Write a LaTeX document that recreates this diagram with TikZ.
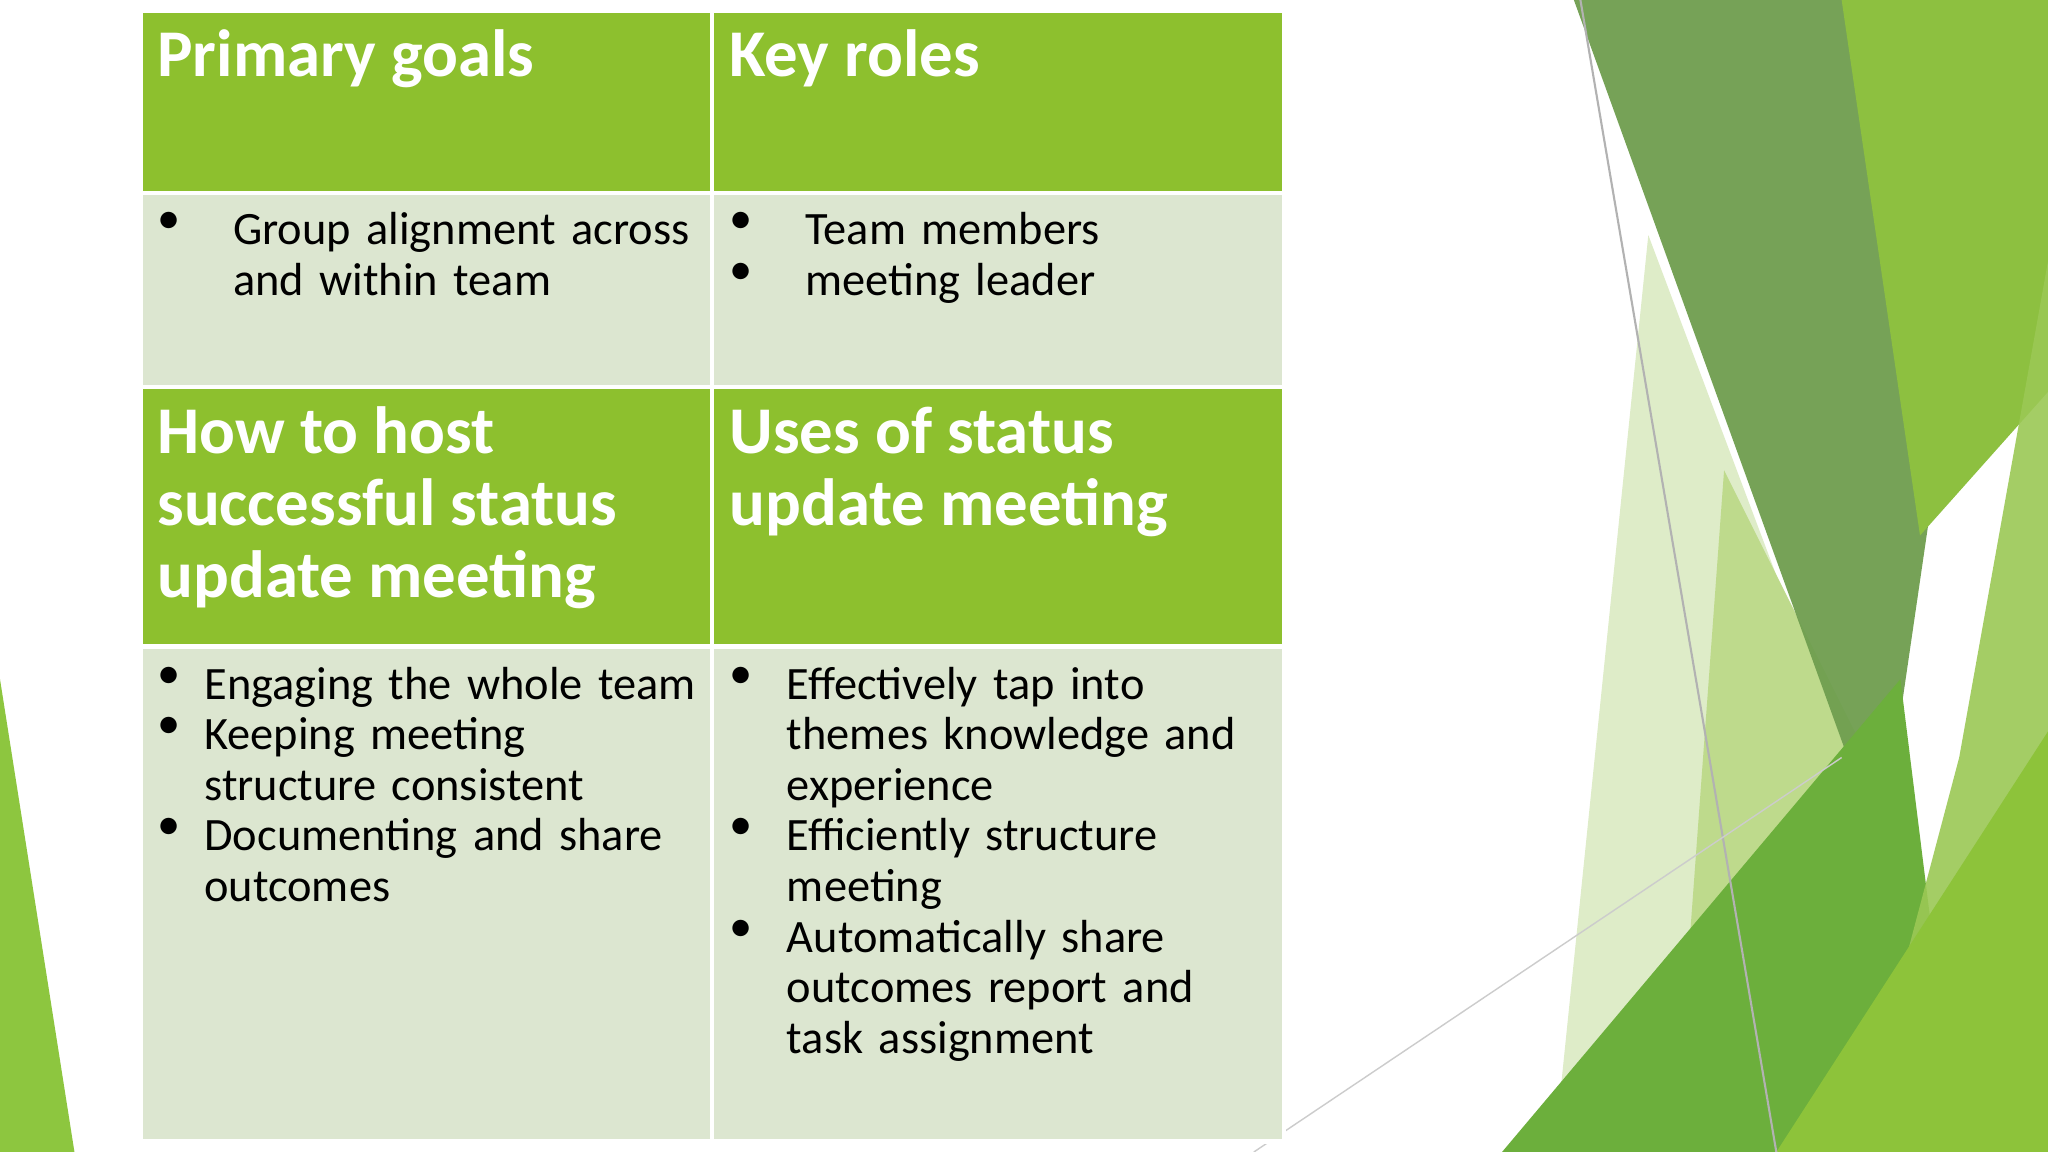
\documentclass[tikz,border=0pt]{standalone}
\usepackage{fontspec}
\setmainfont{Carlito}
\definecolor{hdr}{HTML}{8DC02E}
\definecolor{bodyc}{HTML}{DCE6D0}
\tikzset{
 hcell/.style={fill=hdr,draw=white,line width=1.2pt},
 bcell/.style={fill=bodyc,draw=white,line width=1.2pt},
 htxt/.style={anchor=north west,text=white,font=\bfseries\fontsize{19}{20.5}\selectfont,align=left,inner sep=0pt},
 btxt/.style={anchor=north west,font=\fontsize{13.2}{14.4}\selectfont,align=left,inner sep=0pt,text width=#1},
 btxt/.default=140pt
}
\begin{document}
\begin{tikzpicture}[x=0.013061cm,y=-0.013061cm]
\useasboundingbox (0,0) rectangle (1568,882);
\fill[white] (0,0) rectangle (1568,882);
% decoration
\fill[color={rgb,255:red,222;green,236;blue,200}] (1262,180)--(1420,600)--(1340,882)--(1190,882)--cycle;
\fill[color={rgb,255:red,190;green,218;blue,140}] (1320,360)--(1445,610)--(1290,770)--cycle;
\fill[color={rgb,255:red,111;green,158;blue,79},opacity=0.95] (1205,0)--(1535,0)--(1440,650)--cycle;
\fill[color={rgb,255:red,141;green,192;blue,64}] (1410,0)--(1568,0)--(1568,300)--(1470,410)--cycle;
\fill[color={rgb,255:red,108;green,175;blue,60}] (1150,882)--(1455,520)--(1500,882)--cycle;
\fill[color={rgb,255:red,155;green,200;blue,85},opacity=0.9] (1568,200)--(1568,882)--(1420,882)--(1500,580)--cycle;
\fill[color={rgb,255:red,141;green,195;blue,58}] (1360,882)--(1568,560)--(1568,882)--cycle;
\fill[color={rgb,255:red,141;green,198;blue,63}] (0,520)--(0,882)--(57,882)--cycle;
\draw[gray!60,line width=0.6pt] (1210,0)--(1360,882);
\draw[gray!40,line width=0.4pt] (960,882)--(1410,580);
% table
\path[hcell] (108,8) rectangle (545,148);
\path[hcell] (545,8) rectangle (983,148);
\path[bcell] (108,148) rectangle (545,296);
\path[bcell] (545,148) rectangle (983,296);
\path[hcell] (108,296) rectangle (545,495);
\path[hcell] (545,296) rectangle (983,495);
\path[bcell] (108,495) rectangle (545,874);
\path[bcell] (545,495) rectangle (983,874);
\node[htxt] (h1) at (120,22) {Primary goals};
\node[htxt] (h2) at (558,22) {Key roles};
\node[htxt] (h3) at (120,311) {How to host\\successful status\\update meeting};
\node[htxt] (h4) at (558,311) {Uses of status\\update meeting};
\node[btxt] (b1a) at (120,162) {•};
\node[btxt=150pt] (b1) at (178,162) {Group alignment across and within team};
\node[btxt] (b2a) at (558,162) {•\\•};
\node[btxt] (b2) at (616,162) {Team members\\meeting leader};
\node[btxt] (b3a) at (120,510) {•\\•\\\mbox{}\\•};
\node[btxt=150pt] (b3) at (156,510) {Engaging the whole team\\Keeping meeting\\structure consistent\\Documenting and share\\outcomes};
\node[btxt] (b4a) at (558,510) {•\\\mbox{}\\\mbox{}\\•\\\mbox{}\\•};
\node[btxt=150pt] (b4) at (602,510) {Effectively tap into\\themes knowledge and\\experience\\Efficiently structure\\meeting\\Automatically share\\outcomes report and\\task assignment};
\end{tikzpicture}
\end{document}
